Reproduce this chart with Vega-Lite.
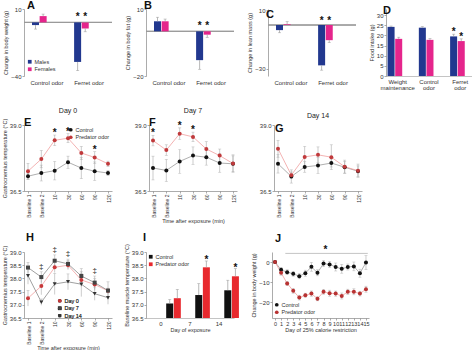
{
"$schema":"https://vega.github.io/schema/vega-lite/v6.json",
"background":"white",
"padding":{"left":2,"top":0,"right":0,"bottom":0},
"config":{
 "font":"Liberation Sans",
 "view":{"stroke":null},
 "axis":{"labelFontSize":6,"titleFontSize":5.5,"titleFontWeight":"normal","labelColor":"#333","titleColor":"#333","domainColor":"#888","tickColor":"#888","tickSize":2,"labelPadding":1,"titlePadding":2,"grid":false,"domainWidth":0.7,"tickWidth":0.7},
 "axisX":{"titlePadding":1},
 "legend":{"labelFontSize":5.5,"symbolSize":14,"rowPadding":0.5,"padding":0,"labelColor":"#333","symbolStrokeWidth":0,"labelOffset":2,"offset":2,"title":null},
 "title":{"font":"Liberation Sans"}
},
"resolve":{"scale":{"color":"independent","shape":"independent"},"legend":{"color":"independent","shape":"independent"}},
"spacing":16,
"vconcat":[
 {"resolve":{"scale":{"color":"independent","shape":"independent"},"legend":{"color":"independent","shape":"independent"}},
  "hconcat":[
  {"width":88,"height":67,
   "title":{"text":"A","anchor":"start","frame":"group","offset":-5,"dx":3,"fontSize":11,"fontWeight":"bold","color":"#111"},
   "data":{"values":[
    {"odor":"Control odor","sex":"Males","v":-2,"hi":-5,"sig":0},
    {"odor":"Control odor","sex":"Females","v":4.7,"hi":6.2,"sig":0},
    {"odor":"Ferret odor","sex":"Males","v":-29.5,"hi":-36,"sig":1},
    {"odor":"Ferret odor","sex":"Females","v":-4.5,"hi":-7,"sig":1}]},
   "layer":[
    {"mark":{"type":"rule","color":"#999","strokeWidth":0.7},"encoding":{"y":{"datum":0,"type":"quantitative"}}},
    {"mark":{"type":"bar"},"encoding":{
      "x":{"field":"odor","type":"nominal","sort":["Control odor","Ferret odor"],"scale":{"paddingInner":0.29,"paddingOuter":0.19},"axis":{"title":null,"labelAngle":0,"domain":false,"ticks":false,"labelPadding":3}},
      "xOffset":{"field":"sex","type":"nominal","scale":{"domain":["Males","Females"],"paddingInner":0.08}},
      "y":{"field":"v","type":"quantitative","scale":{"domain":[-40,10],"nice":false},"axis":{"values":[-40,-30,-20,-10,0,10],"title":"Change in body weight (g)"}},
      "color":{"field":"sex","type":"nominal","scale":{"domain":["Males","Females"],"range":["#22388f","#e5258c"]},"legend":{"orient":"bottom-left","offset":3,"symbolType":"square"}}}},
    {"mark":{"type":"rule","color":"#999","strokeWidth":0.7},"encoding":{
      "x":{"field":"odor","type":"nominal","sort":["Control odor","Ferret odor"],"axis":{"title":null}},
      "xOffset":{"field":"sex","type":"nominal"},
      "y":{"field":"v","type":"quantitative","axis":{"values":[-40,-30,-20,-10,0,10],"title":"Change in body weight (g)"}},"y2":{"field":"hi"}}},
    {"mark":{"type":"tick","color":"#999","thickness":0.7,"size":3,"orient":"horizontal"},"encoding":{
      "x":{"field":"odor","type":"nominal","sort":["Control odor","Ferret odor"],"axis":{"title":null}},
      "xOffset":{"field":"sex","type":"nominal"},
      "y":{"field":"hi","type":"quantitative","axis":{"values":[-40,-30,-20,-10,0,10],"title":"Change in body weight (g)"}}}},
    {"transform":[{"filter":"datum.sig"}],"mark":{"type":"text","text":"*","fontSize":10,"fontWeight":"bold","baseline":"middle","color":"#111"},"encoding":{
      "x":{"field":"odor","type":"nominal","sort":["Control odor","Ferret odor"],"axis":{"title":null}},
      "xOffset":{"field":"sex","type":"nominal"},
      "y":{"datum":4,"type":"quantitative"}}}
   ]},
  {"width":88,"height":67,
   "title":{"text":"B","anchor":"start","frame":"group","offset":-5,"dx":-2,"fontSize":11,"fontWeight":"bold","color":"#111"},
   "data":{"values":[
    {"odor":"Control odor","sex":"Males","v":4.5,"hi":6.3,"sig":0},
    {"odor":"Control odor","sex":"Females","v":4.5,"hi":5.5,"sig":0},
    {"odor":"Ferret odor","sex":"Males","v":-12.9,"hi":-17,"sig":1},
    {"odor":"Ferret odor","sex":"Females","v":-1.5,"hi":-2.7,"sig":1}]},
   "layer":[
    {"mark":{"type":"rule","color":"#999","strokeWidth":0.7},"encoding":{"y":{"datum":0,"type":"quantitative"}}},
    {"mark":{"type":"bar"},"encoding":{
      "x":{"field":"odor","type":"nominal","sort":["Control odor","Ferret odor"],"scale":{"paddingInner":0.29,"paddingOuter":0.19},"axis":{"title":null,"labelAngle":0,"domain":false,"ticks":false,"labelPadding":3}},
      "xOffset":{"field":"sex","type":"nominal","scale":{"domain":["Males","Females"],"paddingInner":0.08}},
      "y":{"field":"v","type":"quantitative","scale":{"domain":[-20,10],"nice":false},"axis":{"values":[-20,-15,-10,-5,0,5,10],"title":"Change in body fat (g)"}},
      "color":{"field":"sex","type":"nominal","scale":{"domain":["Males","Females"],"range":["#22388f","#e5258c"]},"legend":null}}},
    {"mark":{"type":"rule","color":"#999","strokeWidth":0.7},"encoding":{
      "x":{"field":"odor","type":"nominal","sort":["Control odor","Ferret odor"],"axis":{"title":null}},
      "xOffset":{"field":"sex","type":"nominal"},
      "y":{"field":"v","type":"quantitative","axis":{"values":[-20,-15,-10,-5,0,5,10],"title":"Change in body fat (g)"}},"y2":{"field":"hi"}}},
    {"mark":{"type":"tick","color":"#999","thickness":0.7,"size":3,"orient":"horizontal"},"encoding":{
      "x":{"field":"odor","type":"nominal","sort":["Control odor","Ferret odor"],"axis":{"title":null}},
      "xOffset":{"field":"sex","type":"nominal"},
      "y":{"field":"hi","type":"quantitative","axis":{"values":[-20,-15,-10,-5,0,5,10],"title":"Change in body fat (g)"}}}},
    {"transform":[{"filter":"datum.sig"}],"mark":{"type":"text","text":"*","fontSize":10,"fontWeight":"bold","baseline":"middle","color":"#111"},"encoding":{
      "x":{"field":"odor","type":"nominal","sort":["Control odor","Ferret odor"],"axis":{"title":null}},
      "xOffset":{"field":"sex","type":"nominal"},
      "y":{"datum":2.5,"type":"quantitative"}}}
   ]},
  {"width":88,"height":67,
   "title":{"text":"C","anchor":"start","frame":"group","offset":-13,"dx":-2,"fontSize":11,"fontWeight":"bold","color":"#111"},
   "data":{"values":[
    {"odor":"Control odor","sex":"Males","v":-3.5,"hi":-5.3,"sig":0},
    {"odor":"Control odor","sex":"Females","v":0.5,"hi":2.3,"sig":0},
    {"odor":"Ferret odor","sex":"Males","v":-27.7,"hi":-31,"sig":1},
    {"odor":"Ferret odor","sex":"Females","v":-10.4,"hi":-12,"sig":1}]},
   "layer":[
    {"mark":{"type":"rule","color":"#999","strokeWidth":0.7},"encoding":{"y":{"datum":0,"type":"quantitative"}}},
    {"mark":{"type":"bar"},"encoding":{
      "x":{"field":"odor","type":"nominal","sort":["Control odor","Ferret odor"],"scale":{"paddingInner":0.29,"paddingOuter":0.19},"axis":{"title":null,"labelAngle":0,"domain":false,"ticks":false,"labelPadding":3}},
      "xOffset":{"field":"sex","type":"nominal","scale":{"domain":["Males","Females"],"paddingInner":0.08}},
      "y":{"field":"v","type":"quantitative","scale":{"domain":[-35,11],"nice":false},"axis":{"values":[-30,-20,-10,0,10],"title":"Change in lean mass (g)"}},
      "color":{"field":"sex","type":"nominal","scale":{"domain":["Males","Females"],"range":["#22388f","#e5258c"]},"legend":null}}},
    {"mark":{"type":"rule","color":"#999","strokeWidth":0.7},"encoding":{
      "x":{"field":"odor","type":"nominal","sort":["Control odor","Ferret odor"],"axis":{"title":null}},
      "xOffset":{"field":"sex","type":"nominal"},
      "y":{"field":"v","type":"quantitative","axis":{"values":[-30,-20,-10,0,10],"title":"Change in lean mass (g)"}},"y2":{"field":"hi"}}},
    {"mark":{"type":"tick","color":"#999","thickness":0.7,"size":3,"orient":"horizontal"},"encoding":{
      "x":{"field":"odor","type":"nominal","sort":["Control odor","Ferret odor"],"axis":{"title":null}},
      "xOffset":{"field":"sex","type":"nominal"},
      "y":{"field":"hi","type":"quantitative","axis":{"values":[-30,-20,-10,0,10],"title":"Change in lean mass (g)"}}}},
    {"transform":[{"filter":"datum.sig"}],"mark":{"type":"text","text":"*","fontSize":10,"fontWeight":"bold","baseline":"middle","color":"#111"},"encoding":{
      "x":{"field":"odor","type":"nominal","sort":["Control odor","Ferret odor"],"axis":{"title":null}},
      "xOffset":{"field":"sex","type":"nominal"},
      "y":{"datum":3,"type":"quantitative"}}}
   ]},
  {"width":86,"height":67,
   "title":{"text":"D","anchor":"start","frame":"group","offset":-7,"dx":-3,"fontSize":11,"fontWeight":"bold","color":"#111"},
   "data":{"values":[
    {"c":"Weight maintenance","sex":"Males","v":24.2,"hi":24.6,"sig":0},
    {"c":"Weight maintenance","sex":"Females","v":18.3,"hi":19.1,"sig":0},
    {"c":"Control odor","sex":"Males","v":23.8,"hi":24.3,"sig":0},
    {"c":"Control odor","sex":"Females","v":17.8,"hi":18.4,"sig":0},
    {"c":"Ferret odor","sex":"Males","v":19.5,"hi":20.6,"sig":1},
    {"c":"Ferret odor","sex":"Females","v":17.2,"hi":18.3,"sig":1}]},
   "layer":[
    {"mark":{"type":"bar"},"encoding":{
      "x":{"field":"c","type":"nominal","sort":["Weight maintenance","Control odor","Ferret odor"],"scale":{"paddingInner":0.35,"paddingOuter":0.05},"axis":{"title":null,"labelAngle":0,"domainColor":"#aaa","ticks":false,"labelPadding":2,"labelExpr":"split(datum.label,' ')","labelLineHeight":6.5}},
      "xOffset":{"field":"sex","type":"nominal","scale":{"domain":["Males","Females"],"paddingInner":0.08}},
      "y":{"field":"v","type":"quantitative","scale":{"domain":[0,33],"nice":false},"axis":{"values":[0,5,10,15,20,25,30],"title":"Food intake (g)"}},
      "color":{"field":"sex","type":"nominal","scale":{"domain":["Males","Females"],"range":["#22388f","#e5258c"]},"legend":null}}},
    {"mark":{"type":"rule","color":"#999","strokeWidth":0.7},"encoding":{
      "x":{"field":"c","type":"nominal","sort":["Weight maintenance","Control odor","Ferret odor"],"axis":{"title":null}},
      "xOffset":{"field":"sex","type":"nominal"},
      "y":{"field":"v","type":"quantitative","axis":{"values":[0,5,10,15,20,25,30],"title":"Food intake (g)"}},"y2":{"field":"hi"}}},
    {"mark":{"type":"tick","color":"#999","thickness":0.7,"size":3,"orient":"horizontal"},"encoding":{
      "x":{"field":"c","type":"nominal","sort":["Weight maintenance","Control odor","Ferret odor"],"axis":{"title":null}},
      "xOffset":{"field":"sex","type":"nominal"},
      "y":{"field":"hi","type":"quantitative","axis":{"values":[0,5,10,15,20,25,30],"title":"Food intake (g)"}}}},
    {"transform":[{"filter":"datum.sig"}],"mark":{"type":"text","text":"*","fontSize":10,"fontWeight":"bold","baseline":"middle","dy":-2,"color":"#111"},"encoding":{
      "x":{"field":"c","type":"nominal","sort":["Weight maintenance","Control odor","Ferret odor"],"axis":{"title":null}},
      "xOffset":{"field":"sex","type":"nominal"},
      "y":{"field":"hi","type":"quantitative","axis":{"values":[0,5,10,15,20,25,30],"title":"Food intake (g)"}}}}
   ]}
 ],"spacing":12},
 {"spacing":7,
  "resolve":{"scale":{"color":"independent","shape":"independent"},"legend":{"color":"independent","shape":"independent"}},
  "vconcat":[
  {"resolve":{"scale":{"color":"independent","shape":"independent"},"legend":{"color":"independent","shape":"independent"}},
   "hconcat":[
   {"width":88,"height":66,
    "title":{"text":"Day 0","fontSize":7,"fontWeight":"normal","offset":3,"color":"#222"},
    "data":{"values":[
     {"t":"Baseline 1","g":"Control","m":37.06,"lo":36.94,"hi":37.18,"sig":0},
     {"t":"Baseline 2","g":"Control","m":37.18,"lo":36.88,"hi":37.48,"sig":0},
     {"t":"10","g":"Control","m":37.27,"lo":36.92,"hi":37.62,"sig":0},
     {"t":"30","g":"Control","m":37.59,"lo":37.36,"hi":37.82,"sig":0},
     {"t":"60","g":"Control","m":37.37,"lo":36.97,"hi":37.77,"sig":0},
     {"t":"90","g":"Control","m":37.25,"lo":36.9,"hi":37.6,"sig":0},
     {"t":"120","g":"Control","m":37.18,"lo":37.08,"hi":37.28,"sig":0},
     {"t":"Baseline 1","g":"Predator odor","m":37.25,"lo":36.95,"hi":37.55,"sig":0},
     {"t":"Baseline 2","g":"Predator odor","m":37.71,"lo":37.38,"hi":38.04,"sig":0},
     {"t":"10","g":"Predator odor","m":38.42,"lo":38.22,"hi":38.62,"sig":1},
     {"t":"30","g":"Predator odor","m":38.5,"lo":38.33,"hi":38.67,"sig":1},
     {"t":"60","g":"Predator odor","m":37.94,"lo":37.69,"hi":38.19,"sig":0},
     {"t":"90","g":"Predator odor","m":37.77,"lo":37.55,"hi":37.99,"sig":1},
     {"t":"120","g":"Predator odor","m":37.53,"lo":37.43,"hi":37.63,"sig":0}]},
    "layer":[
     {"mark":{"type":"line","strokeWidth":0.8},"encoding":{
       "x":{"field":"t","type":"nominal","sort":["Baseline 1","Baseline 2","10","30","60","90","120"],"scale":{"type":"point","padding":0.3},"axis":{"title":null,"labelAngle":-90,"labelFontSize":5}},
       "y":{"field":"m","type":"quantitative","scale":{"domain":[36.5,39],"nice":false},"axis":{"values":[36.5,37,37.5,38,38.5,39],"format":".1f","title":"Gastrocnemius temperature (°C)"}},
       "color":{"field":"g","type":"nominal","scale":{"domain":["Control","Predator odor"],"range":["#9a9a9a","#f0a0a0"]},"legend":null}}},
     {"mark":{"type":"rule","color":"#aaa","strokeWidth":0.6},"encoding":{
       "x":{"field":"t","type":"nominal","sort":["Baseline 1","Baseline 2","10","30","60","90","120"],"axis":{"title":null}},
       "y":{"field":"lo","type":"quantitative","axis":{"values":[36.5,37,37.5,38,38.5,39],"format":".1f","title":"Gastrocnemius temperature (°C)"}},"y2":{"field":"hi"}}},
     {"mark":{"type":"tick","color":"#aaa","thickness":0.6,"size":3,"orient":"horizontal"},"encoding":{
       "x":{"field":"t","type":"nominal","sort":["Baseline 1","Baseline 2","10","30","60","90","120"],"axis":{"title":null}},
       "y":{"field":"lo","type":"quantitative","axis":{"values":[36.5,37,37.5,38,38.5,39],"format":".1f","title":"Gastrocnemius temperature (°C)"}}}},
     {"mark":{"type":"tick","color":"#aaa","thickness":0.6,"size":3,"orient":"horizontal"},"encoding":{
       "x":{"field":"t","type":"nominal","sort":["Baseline 1","Baseline 2","10","30","60","90","120"],"axis":{"title":null}},
       "y":{"field":"hi","type":"quantitative","axis":{"values":[36.5,37,37.5,38,38.5,39],"format":".1f","title":"Gastrocnemius temperature (°C)"}}}},
     {"mark":{"type":"point","filled":true,"size":16,"opacity":1},"encoding":{
       "x":{"field":"t","type":"nominal","sort":["Baseline 1","Baseline 2","10","30","60","90","120"],"axis":{"title":null}},
       "y":{"field":"m","type":"quantitative","axis":{"values":[36.5,37,37.5,38,38.5,39],"format":".1f","title":"Gastrocnemius temperature (°C)"}},
       "color":{"field":"g","type":"nominal","scale":{"domain":["Control","Predator odor"],"range":["#111111","#c0393b"]},"legend":{"orient":"top-right","offset":2,"symbolType":"circle"}}}},
     {"transform":[{"filter":"datum.sig"}],"mark":{"type":"text","text":"*","fontSize":10,"fontWeight":"bold","baseline":"middle","dy":-2,"color":"#111"},"encoding":{
       "x":{"field":"t","type":"nominal","sort":["Baseline 1","Baseline 2","10","30","60","90","120"],"axis":{"title":null}},
       "y":{"field":"hi","type":"quantitative","axis":{"values":[36.5,37,37.5,38,38.5,39],"format":".1f","title":"Gastrocnemius temperature (°C)"}}}},
     {"data":{"values":[{"k":"E"}]},"mark":{"type":"text","fontSize":11,"fontWeight":"bold","align":"left","baseline":"bottom","dx":-4,"dy":3,"color":"#111"},"encoding":{
       "text":{"field":"k"},
       "x":{"datum":"Baseline 1","type":"nominal","axis":{"title":null}},
       "y":{"datum":39,"type":"quantitative"}}}
    ],
    "resolve":{"scale":{"color":"independent"}}},
   {"width":88,"height":66,
    "title":{"text":"Day 7","fontSize":7,"fontWeight":"normal","offset":3,"color":"#222"},
    "data":{"values":[
     {"t":"Baseline 1","g":"Control","m":37.37,"lo":36.92,"hi":37.82,"sig":0},
     {"t":"Baseline 2","g":"Control","m":37.28,"lo":36.86,"hi":37.7,"sig":0},
     {"t":"10","g":"Control","m":37.62,"lo":37.17,"hi":38.07,"sig":0},
     {"t":"30","g":"Control","m":37.84,"lo":37.51,"hi":38.17,"sig":0},
     {"t":"60","g":"Control","m":37.78,"lo":37.48,"hi":38.08,"sig":0},
     {"t":"90","g":"Control","m":37.56,"lo":37.21,"hi":37.91,"sig":0},
     {"t":"120","g":"Control","m":37.53,"lo":37.23,"hi":37.83,"sig":0},
     {"t":"Baseline 1","g":"Predator odor","m":38.41,"lo":38.21,"hi":38.61,"sig":1},
     {"t":"Baseline 2","g":"Predator odor","m":38.05,"lo":37.85,"hi":38.25,"sig":0},
     {"t":"10","g":"Predator odor","m":38.67,"lo":38.45,"hi":38.89,"sig":1},
     {"t":"30","g":"Predator odor","m":38.55,"lo":38.37,"hi":38.73,"sig":1},
     {"t":"60","g":"Predator odor","m":38.09,"lo":37.81,"hi":38.37,"sig":0},
     {"t":"90","g":"Predator odor","m":37.84,"lo":37.59,"hi":38.09,"sig":0},
     {"t":"120","g":"Predator odor","m":37.54,"lo":37.21,"hi":37.87,"sig":0}]},
    "layer":[
     {"mark":{"type":"line","strokeWidth":0.8},"encoding":{
       "x":{"field":"t","type":"nominal","sort":["Baseline 1","Baseline 2","10","30","60","90","120"],"scale":{"type":"point","padding":0.3},"axis":{"title":"Time after exposure (min)","labelAngle":-90,"labelFontSize":5}},
       "y":{"field":"m","type":"quantitative","scale":{"domain":[36.5,39],"nice":false},"axis":{"values":[36.5,37,37.5,38,38.5,39],"format":".1f","title":null}},
       "color":{"field":"g","type":"nominal","scale":{"domain":["Control","Predator odor"],"range":["#9a9a9a","#f0a0a0"]},"legend":null}}},
     {"mark":{"type":"rule","color":"#aaa","strokeWidth":0.6},"encoding":{
       "x":{"field":"t","type":"nominal","sort":["Baseline 1","Baseline 2","10","30","60","90","120"],"axis":{"title":"Time after exposure (min)"}},
       "y":{"field":"lo","type":"quantitative","axis":{"values":[36.5,37,37.5,38,38.5,39],"format":".1f","title":null}},"y2":{"field":"hi"}}},
     {"mark":{"type":"tick","color":"#aaa","thickness":0.6,"size":3,"orient":"horizontal"},"encoding":{
       "x":{"field":"t","type":"nominal","sort":["Baseline 1","Baseline 2","10","30","60","90","120"],"axis":{"title":"Time after exposure (min)"}},
       "y":{"field":"lo","type":"quantitative","axis":{"values":[36.5,37,37.5,38,38.5,39],"format":".1f","title":null}}}},
     {"mark":{"type":"tick","color":"#aaa","thickness":0.6,"size":3,"orient":"horizontal"},"encoding":{
       "x":{"field":"t","type":"nominal","sort":["Baseline 1","Baseline 2","10","30","60","90","120"],"axis":{"title":"Time after exposure (min)"}},
       "y":{"field":"hi","type":"quantitative","axis":{"values":[36.5,37,37.5,38,38.5,39],"format":".1f","title":null}}}},
     {"mark":{"type":"point","filled":true,"size":16,"opacity":1},"encoding":{
       "x":{"field":"t","type":"nominal","sort":["Baseline 1","Baseline 2","10","30","60","90","120"],"axis":{"title":"Time after exposure (min)"}},
       "y":{"field":"m","type":"quantitative","axis":{"values":[36.5,37,37.5,38,38.5,39],"format":".1f","title":null}},
       "color":{"field":"g","type":"nominal","scale":{"domain":["Control","Predator odor"],"range":["#111111","#c0393b"]},"legend":null}}},
     {"transform":[{"filter":"datum.sig"}],"mark":{"type":"text","text":"*","fontSize":10,"fontWeight":"bold","baseline":"middle","dy":-2,"color":"#111"},"encoding":{
       "x":{"field":"t","type":"nominal","sort":["Baseline 1","Baseline 2","10","30","60","90","120"],"axis":{"title":"Time after exposure (min)"}},
       "y":{"field":"hi","type":"quantitative","axis":{"values":[36.5,37,37.5,38,38.5,39],"format":".1f","title":null}}}},
     {"data":{"values":[{"k":"F"}]},"mark":{"type":"text","fontSize":11,"fontWeight":"bold","align":"left","baseline":"bottom","dx":-4,"dy":3,"color":"#111"},"encoding":{
       "text":{"field":"k"},
       "x":{"datum":"Baseline 1","type":"nominal","axis":{"title":"Time after exposure (min)"}},
       "y":{"datum":39,"type":"quantitative"}}}
    ],
    "resolve":{"scale":{"color":"independent"}}},
   {"width":88,"height":66,
    "title":{"text":"Day 14","fontSize":7,"fontWeight":"normal","offset":3,"color":"#222"},
    "data":{"values":[
     {"t":"Baseline 1","g":"Control","m":37.53,"lo":37.18,"hi":37.88,"sig":0},
     {"t":"Baseline 2","g":"Control","m":37.05,"lo":36.8,"hi":37.3,"sig":0},
     {"t":"10","g":"Control","m":37.41,"lo":37.21,"hi":37.61,"sig":0},
     {"t":"30","g":"Control","m":37.47,"lo":37.17,"hi":37.77,"sig":0},
     {"t":"60","g":"Control","m":37.56,"lo":37.41,"hi":37.71,"sig":0},
     {"t":"90","g":"Control","m":37.4,"lo":37.18,"hi":37.62,"sig":0},
     {"t":"120","g":"Control","m":37.25,"lo":37.05,"hi":37.45,"sig":0},
     {"t":"Baseline 1","g":"Predator odor","m":38.1,"lo":37.78,"hi":38.42,"sig":0},
     {"t":"Baseline 2","g":"Predator odor","m":37.1,"lo":36.98,"hi":37.22,"sig":0},
     {"t":"10","g":"Predator odor","m":37.79,"lo":37.39,"hi":38.19,"sig":0},
     {"t":"30","g":"Predator odor","m":37.87,"lo":37.57,"hi":38.17,"sig":0},
     {"t":"60","g":"Predator odor","m":37.78,"lo":37.31,"hi":38.25,"sig":0},
     {"t":"90","g":"Predator odor","m":37.42,"lo":37.17,"hi":37.67,"sig":0},
     {"t":"120","g":"Predator odor","m":37.27,"lo":37.02,"hi":37.52,"sig":0}]},
    "layer":[
     {"mark":{"type":"line","strokeWidth":0.8},"encoding":{
       "x":{"field":"t","type":"nominal","sort":["Baseline 1","Baseline 2","10","30","60","90","120"],"scale":{"type":"point","padding":0.3},"axis":{"title":null,"labelAngle":-90,"labelFontSize":5}},
       "y":{"field":"m","type":"quantitative","scale":{"domain":[36.5,39],"nice":false},"axis":{"values":[36.5,37,37.5,38,38.5,39],"format":".1f","title":null}},
       "color":{"field":"g","type":"nominal","scale":{"domain":["Control","Predator odor"],"range":["#9a9a9a","#f0a0a0"]},"legend":null}}},
     {"mark":{"type":"rule","color":"#aaa","strokeWidth":0.6},"encoding":{
       "x":{"field":"t","type":"nominal","sort":["Baseline 1","Baseline 2","10","30","60","90","120"],"axis":{"title":null}},
       "y":{"field":"lo","type":"quantitative","axis":{"values":[36.5,37,37.5,38,38.5,39],"format":".1f","title":null}},"y2":{"field":"hi"}}},
     {"mark":{"type":"tick","color":"#aaa","thickness":0.6,"size":3,"orient":"horizontal"},"encoding":{
       "x":{"field":"t","type":"nominal","sort":["Baseline 1","Baseline 2","10","30","60","90","120"],"axis":{"title":null}},
       "y":{"field":"lo","type":"quantitative","axis":{"values":[36.5,37,37.5,38,38.5,39],"format":".1f","title":null}}}},
     {"mark":{"type":"tick","color":"#aaa","thickness":0.6,"size":3,"orient":"horizontal"},"encoding":{
       "x":{"field":"t","type":"nominal","sort":["Baseline 1","Baseline 2","10","30","60","90","120"],"axis":{"title":null}},
       "y":{"field":"hi","type":"quantitative","axis":{"values":[36.5,37,37.5,38,38.5,39],"format":".1f","title":null}}}},
     {"mark":{"type":"point","filled":true,"size":16,"opacity":1},"encoding":{
       "x":{"field":"t","type":"nominal","sort":["Baseline 1","Baseline 2","10","30","60","90","120"],"axis":{"title":null}},
       "y":{"field":"m","type":"quantitative","axis":{"values":[36.5,37,37.5,38,38.5,39],"format":".1f","title":null}},
       "color":{"field":"g","type":"nominal","scale":{"domain":["Control","Predator odor"],"range":["#111111","#c0393b"]},"legend":null}}},
     {"data":{"values":[{"k":"G"}]},"mark":{"type":"text","fontSize":11,"fontWeight":"bold","align":"left","baseline":"bottom","dx":-3,"dy":9,"color":"#111"},"encoding":{
       "text":{"field":"k"},
       "x":{"datum":"Baseline 1","type":"nominal","axis":{"title":null}},
       "y":{"datum":39,"type":"quantitative"}}}
    ],
    "resolve":{"scale":{"color":"independent"}}}
  ],"spacing":22},
  {"resolve":{"scale":{"color":"independent","shape":"independent"},"legend":{"color":"independent","shape":"independent"}},
   "hconcat":[
   {"width":88,"height":66,
    "title":{"text":"H","anchor":"start","frame":"group","offset":2,"dx":2,"fontSize":11,"fontWeight":"bold","color":"#111"},
    "data":{"values":[
     {"t":"Baseline 1","g":"Day 0","m":37.25,"lo":36.95,"hi":37.55,"dd":0},
     {"t":"Baseline 2","g":"Day 0","m":37.71,"lo":37.38,"hi":38.04,"dd":0},
     {"t":"10","g":"Day 0","m":38.42,"lo":38.22,"hi":38.62,"dd":0},
     {"t":"30","g":"Day 0","m":38.5,"lo":38.33,"hi":38.67,"dd":0},
     {"t":"60","g":"Day 0","m":37.94,"lo":37.69,"hi":38.19,"dd":0},
     {"t":"90","g":"Day 0","m":37.77,"lo":37.55,"hi":37.99,"dd":0},
     {"t":"120","g":"Day 0","m":37.53,"lo":37.43,"hi":37.63,"dd":0},
     {"t":"Baseline 1","g":"Day 7","m":38.41,"lo":38.21,"hi":38.61,"dd":0},
     {"t":"Baseline 2","g":"Day 7","m":38.05,"lo":37.85,"hi":38.25,"dd":1},
     {"t":"10","g":"Day 7","m":38.67,"lo":38.45,"hi":38.89,"dd":1},
     {"t":"30","g":"Day 7","m":38.55,"lo":38.37,"hi":38.73,"dd":1},
     {"t":"60","g":"Day 7","m":38.09,"lo":37.81,"hi":38.37,"dd":0},
     {"t":"90","g":"Day 7","m":37.84,"lo":37.59,"hi":38.09,"dd":1},
     {"t":"120","g":"Day 7","m":37.54,"lo":37.21,"hi":37.87,"dd":0},
     {"t":"Baseline 1","g":"Day 14","m":38.1,"lo":37.78,"hi":38.42,"dd":0},
     {"t":"Baseline 2","g":"Day 14","m":37.1,"lo":36.98,"hi":37.22,"dd":0},
     {"t":"10","g":"Day 14","m":37.79,"lo":37.39,"hi":38.19,"dd":0},
     {"t":"30","g":"Day 14","m":37.87,"lo":37.57,"hi":38.17,"dd":0},
     {"t":"60","g":"Day 14","m":37.78,"lo":37.31,"hi":38.25,"dd":0},
     {"t":"90","g":"Day 14","m":37.42,"lo":37.17,"hi":37.67,"dd":0},
     {"t":"120","g":"Day 14","m":37.27,"lo":37.02,"hi":37.52,"dd":0}]},
    "layer":[
     {"mark":{"type":"line","strokeWidth":0.8},"encoding":{
       "x":{"field":"t","type":"nominal","sort":["Baseline 1","Baseline 2","10","30","60","90","120"],"scale":{"type":"point","padding":0.3},"axis":{"title":"Time after exposure (min)","labelAngle":-90,"labelFontSize":5}},
       "y":{"field":"m","type":"quantitative","scale":{"domain":[36.5,39],"nice":false},"axis":{"values":[36.5,37,37.5,38,38.5,39],"format":".1f","title":"Gastrocnemius temperature (°C)"}},
       "color":{"field":"g","type":"nominal","scale":{"domain":["Day 0","Day 7","Day 14"],"range":["#f0a0a0","#888888","#888888"]},"legend":null}}},
     {"mark":{"type":"rule","color":"#aaa","strokeWidth":0.6},"encoding":{
       "x":{"field":"t","type":"nominal","sort":["Baseline 1","Baseline 2","10","30","60","90","120"],"axis":{"title":"Time after exposure (min)"}},
       "y":{"field":"lo","type":"quantitative","axis":{"values":[36.5,37,37.5,38,38.5,39],"format":".1f","title":"Gastrocnemius temperature (°C)"}},"y2":{"field":"hi"}}},
     {"mark":{"type":"tick","color":"#aaa","thickness":0.6,"size":3,"orient":"horizontal"},"encoding":{
       "x":{"field":"t","type":"nominal","sort":["Baseline 1","Baseline 2","10","30","60","90","120"],"axis":{"title":"Time after exposure (min)"}},
       "y":{"field":"hi","type":"quantitative","axis":{"values":[36.5,37,37.5,38,38.5,39],"format":".1f","title":"Gastrocnemius temperature (°C)"}}}},
     {"mark":{"type":"point","filled":true,"size":16,"opacity":1},"encoding":{
       "x":{"field":"t","type":"nominal","sort":["Baseline 1","Baseline 2","10","30","60","90","120"],"axis":{"title":"Time after exposure (min)"}},
       "y":{"field":"m","type":"quantitative","axis":{"values":[36.5,37,37.5,38,38.5,39],"format":".1f","title":"Gastrocnemius temperature (°C)"}},
       "color":{"field":"g","type":"nominal","scale":{"domain":["Day 0","Day 7","Day 14"],"range":["#c8383a","#444444","#333333"]},"legend":{"orient":"none","legendX":33,"legendY":46}},
       "shape":{"field":"g","type":"nominal","scale":{"domain":["Day 0","Day 7","Day 14"],"range":["circle","square","triangle-down"]},"legend":{"orient":"none","legendX":33,"legendY":46}}}},
     {"transform":[{"filter":"datum.dd"}],"mark":{"type":"text","text":"‡","fontSize":8,"baseline":"middle","dy":-5,"color":"#222"},"encoding":{
       "x":{"field":"t","type":"nominal","sort":["Baseline 1","Baseline 2","10","30","60","90","120"],"axis":{"title":"Time after exposure (min)"}},
       "y":{"field":"hi","type":"quantitative","axis":{"values":[36.5,37,37.5,38,38.5,39],"format":".1f","title":"Gastrocnemius temperature (°C)"}}}}
    ],
    "resolve":{"scale":{"color":"independent"}}},
   {"width":88,"height":66,
    "title":{"text":"I","anchor":"start","frame":"group","offset":1,"dx":-3,"fontSize":11,"fontWeight":"bold","color":"#111"},
    "data":{"values":[
     {"d":"0","g":"Control","m":37.05,"hi":37.2,"sig":0},
     {"d":"0","g":"Predator odor","m":37.25,"hi":37.58,"sig":0},
     {"d":"7","g":"Control","m":37.37,"hi":37.8,"sig":0},
     {"d":"7","g":"Predator odor","m":38.42,"hi":38.66,"sig":1},
     {"d":"14","g":"Control","m":37.55,"hi":37.93,"sig":0},
     {"d":"14","g":"Predator odor","m":38.08,"hi":38.37,"sig":1}]},
    "layer":[
     {"mark":{"type":"bar"},"encoding":{
       "x":{"field":"d","type":"nominal","sort":["0","7","14"],"scale":{"paddingInner":0.31,"paddingOuter":0.17},"axis":{"title":"Day of exposure","labelAngle":0,"domainColor":"#aaa","ticks":false,"labelPadding":2}},
       "xOffset":{"field":"g","type":"nominal","scale":{"domain":["Control","Predator odor"],"paddingInner":0.08}},
       "y":{"field":"m","type":"quantitative","scale":{"domain":[36.5,39],"nice":false},"axis":{"values":[36.5,37,37.5,38,38.5,39],"format":".1f","title":"Baseline muscle temperature (°C)"}},
       "y2":{"datum":36.5},
       "color":{"field":"g","type":"nominal","scale":{"domain":["Control","Predator odor"],"range":["#111111","#e8292e"]},"legend":{"orient":"top-left","offset":2,"symbolType":"square"}}}},
     {"mark":{"type":"rule","color":"#999","strokeWidth":0.7},"encoding":{
       "x":{"field":"d","type":"nominal","sort":["0","7","14"],"axis":{"title":"Day of exposure"}},
       "xOffset":{"field":"g","type":"nominal"},
       "y":{"field":"m","type":"quantitative","axis":{"values":[36.5,37,37.5,38,38.5,39],"format":".1f","title":"Baseline muscle temperature (°C)"}},"y2":{"field":"hi"}}},
     {"mark":{"type":"tick","color":"#999","thickness":0.7,"size":3,"orient":"horizontal"},"encoding":{
       "x":{"field":"d","type":"nominal","sort":["0","7","14"],"axis":{"title":"Day of exposure"}},
       "xOffset":{"field":"g","type":"nominal"},
       "y":{"field":"hi","type":"quantitative","axis":{"values":[36.5,37,37.5,38,38.5,39],"format":".1f","title":"Baseline muscle temperature (°C)"}}}},
     {"transform":[{"filter":"datum.sig"}],"mark":{"type":"text","text":"*","fontSize":10,"fontWeight":"bold","baseline":"middle","dy":-1,"color":"#111"},"encoding":{
       "x":{"field":"d","type":"nominal","sort":["0","7","14"],"axis":{"title":"Day of exposure"}},
       "xOffset":{"field":"g","type":"nominal"},
       "y":{"field":"hi","type":"quantitative","axis":{"values":[36.5,37,37.5,38,38.5,39],"format":".1f","title":"Baseline muscle temperature (°C)"}}}}
    ]},
   {"width":97,"height":66,
    "title":{"text":"J","anchor":"start","frame":"group","offset":1,"dx":3,"fontSize":11,"fontWeight":"bold","color":"#111"},
    "data":{"values":[
     {"day":0,"g":"Control","m":0,"lo":-0.3,"hi":0.3},
     {"day":1,"g":"Control","m":-3.9,"lo":-5.1,"hi":-2.7},
     {"day":2,"g":"Control","m":-5.1,"lo":-6.3,"hi":-3.9},
     {"day":3,"g":"Control","m":-5.9,"lo":-7.1,"hi":-4.7},
     {"day":4,"g":"Control","m":-7.1,"lo":-8.4,"hi":-5.8},
     {"day":5,"g":"Control","m":-5.6,"lo":-7.1,"hi":-4.1},
     {"day":6,"g":"Control","m":-2.4,"lo":-4.6,"hi":-0.2},
     {"day":7,"g":"Control","m":-5.4,"lo":-6.9,"hi":-3.9},
     {"day":8,"g":"Control","m":-0.8,"lo":-2.3,"hi":0.7},
     {"day":9,"g":"Control","m":-1.2,"lo":-2.7,"hi":0.3},
     {"day":10,"g":"Control","m":-2.5,"lo":-4.5,"hi":-0.5},
     {"day":11,"g":"Control","m":-3.4,"lo":-5.6,"hi":-1.2},
     {"day":12,"g":"Control","m":-2.5,"lo":-4.0,"hi":-1.0},
     {"day":13,"g":"Control","m":-2.2,"lo":-4.4,"hi":0.0},
     {"day":14,"g":"Control","m":-5.6,"lo":-7.6,"hi":-3.6},
     {"day":15,"g":"Control","m":-0.3,"lo":-3.8,"hi":3.2},
     {"day":0,"g":"Predator odor","m":0,"lo":-0.3,"hi":0.3},
     {"day":1,"g":"Predator odor","m":-5.4,"lo":-6.6,"hi":-4.2},
     {"day":2,"g":"Predator odor","m":-10.7,"lo":-11.7,"hi":-9.7},
     {"day":3,"g":"Predator odor","m":-14.4,"lo":-15.6,"hi":-13.2},
     {"day":4,"g":"Predator odor","m":-17.8,"lo":-19.0,"hi":-16.6},
     {"day":5,"g":"Predator odor","m":-16.6,"lo":-17.6,"hi":-15.6},
     {"day":6,"g":"Predator odor","m":-15.8,"lo":-17.1,"hi":-14.5},
     {"day":7,"g":"Predator odor","m":-18.4,"lo":-19.4,"hi":-17.4},
     {"day":8,"g":"Predator odor","m":-14.9,"lo":-16.1,"hi":-13.7},
     {"day":9,"g":"Predator odor","m":-15.6,"lo":-17.1,"hi":-14.1},
     {"day":10,"g":"Predator odor","m":-15.8,"lo":-17.1,"hi":-14.5},
     {"day":11,"g":"Predator odor","m":-17.0,"lo":-18.5,"hi":-15.5},
     {"day":12,"g":"Predator odor","m":-14.9,"lo":-16.2,"hi":-13.6},
     {"day":13,"g":"Predator odor","m":-14.9,"lo":-16.4,"hi":-13.4},
     {"day":14,"g":"Predator odor","m":-15.8,"lo":-17.0,"hi":-14.6},
     {"day":15,"g":"Predator odor","m":-13.6,"lo":-15.1,"hi":-12.1}]},
    "layer":[
     {"mark":{"type":"line","strokeWidth":0.8},"encoding":{
       "x":{"field":"day","type":"quantitative","scale":{"domain":[-0.5,15.5],"nice":false,"zero":false},"axis":{"title":"Day of  25% calorie restriction","values":[0,1,2,3,4,5,6,7,8,9,10,11,12,13,14,15],"labelOverlap":false,"labelFontSize":5.5,"labelBound":false}},
       "y":{"field":"m","type":"quantitative","scale":{"domain":[-28,5],"nice":false},"axis":{"values":[-20,-10,0],"title":"Change in body weight (g)"}},
       "color":{"field":"g","type":"nominal","scale":{"domain":["Control","Predator odor"],"range":["#9a9a9a","#f0a0a0"]},"legend":null}}},
     {"mark":{"type":"rule","color":"#aaa","strokeWidth":0.6},"encoding":{
       "x":{"field":"day","type":"quantitative","axis":{"title":"Day of  25% calorie restriction","values":[0,1,2,3,4,5,6,7,8,9,10,11,12,13,14,15],"labelOverlap":false,"labelFontSize":5.5,"labelBound":false}},
       "y":{"field":"lo","type":"quantitative","axis":{"values":[-20,-10,0],"title":"Change in body weight (g)"}},"y2":{"field":"hi"}}},
     {"mark":{"type":"tick","color":"#aaa","thickness":0.6,"size":3,"orient":"horizontal"},"encoding":{
       "x":{"field":"day","type":"quantitative","axis":{"title":"Day of  25% calorie restriction","values":[0,1,2,3,4,5,6,7,8,9,10,11,12,13,14,15],"labelOverlap":false,"labelFontSize":5.5,"labelBound":false}},
       "y":{"field":"hi","type":"quantitative","axis":{"values":[-20,-10,0],"title":"Change in body weight (g)"}}}},
     {"mark":{"type":"tick","color":"#aaa","thickness":0.6,"size":3,"orient":"horizontal"},"encoding":{
       "x":{"field":"day","type":"quantitative","axis":{"title":"Day of  25% calorie restriction","values":[0,1,2,3,4,5,6,7,8,9,10,11,12,13,14,15],"labelOverlap":false,"labelFontSize":5.5,"labelBound":false}},
       "y":{"field":"lo","type":"quantitative","axis":{"values":[-20,-10,0],"title":"Change in body weight (g)"}}}},
     {"mark":{"type":"point","filled":true,"size":16,"opacity":1},"encoding":{
       "x":{"field":"day","type":"quantitative","axis":{"title":"Day of  25% calorie restriction","values":[0,1,2,3,4,5,6,7,8,9,10,11,12,13,14,15],"labelOverlap":false,"labelFontSize":5.5,"labelBound":false}},
       "y":{"field":"m","type":"quantitative","axis":{"values":[-20,-10,0],"title":"Change in body weight (g)"}},
       "color":{"field":"g","type":"nominal","scale":{"domain":["Control","Predator odor"],"range":["#111111","#b83232"]},"legend":{"orient":"bottom-left","offset":2,"symbolType":"circle"}}}},
     {"data":{"values":[{"k":"sig"}]},"mark":{"type":"rule","color":"#aaa","strokeWidth":0.7},"encoding":{
       "x":{"datum":1.7,"type":"quantitative","axis":{"title":"Day of  25% calorie restriction","values":[0,1,2,3,4,5,6,7,8,9,10,11,12,13,14,15],"labelOverlap":false,"labelFontSize":5.5,"labelBound":false}},"x2":{"datum":15.3},
       "y":{"datum":4.3,"type":"quantitative","axis":{"values":[-20,-10,0],"title":"Change in body weight (g)"}}}},
     {"data":{"values":[{"k":"*"}]},"mark":{"type":"text","fontSize":10,"fontWeight":"bold","baseline":"middle","color":"#111"},"encoding":{
       "text":{"field":"k"},
       "x":{"datum":8.3,"type":"quantitative","axis":{"title":"Day of  25% calorie restriction","values":[0,1,2,3,4,5,6,7,8,9,10,11,12,13,14,15],"labelOverlap":false,"labelFontSize":5.5,"labelBound":false}},
       "y":{"datum":6,"type":"quantitative","axis":{"values":[-20,-10,0],"title":"Change in body weight (g)"}}}}
    ],
    "resolve":{"scale":{"color":"independent"}}}
  ],"spacing":12}
 ]}
]
}
